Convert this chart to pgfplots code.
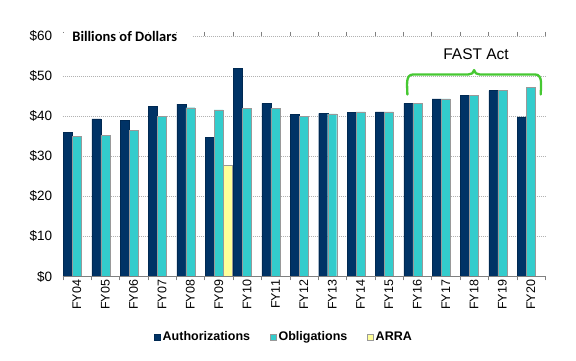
\documentclass[border=0pt]{standalone}
\usepackage{pgfplots}
\pgfplotsset{compat=1.18}
\usepackage{fontspec}
\setmainfont{Liberation Sans}
\newfontfamily\calibri{Carlito}
\definecolor{navy}{RGB}{0,51,102}
\definecolor{teal2}{RGB}{51,204,204}
\definecolor{arra}{RGB}{255,255,153}
\definecolor{brgreen}{RGB}{70,200,50}
\begin{document}
\begin{tikzpicture}
\useasboundingbox (-62.7pt,-84.5pt) rectangle (513.3pt,276.5pt);
\begin{axis}[
  at={(0,0)}, anchor=south west,
  scale only axis, width=482.3pt, height=240.5pt,
  xmin=-0.5, xmax=16.5, ymin=0, ymax=60,
  xtick={0,...,16},
  xticklabels={FY04,FY05,FY06,FY07,FY08,FY09,FY10,FY11,FY12,FY13,FY14,FY15,FY16,FY17,FY18,FY19,FY20},
  x tick label style={rotate=90, anchor=east, font=\fontsize{12.5}{14}\selectfont},
  minor xtick={-0.5,0.5,...,16.5},
  major tick length=0pt, minor tick length=4pt, tick align=outside,
  minor tick style={gray},
  ytick={0,10,20,30,40,50,60},
  yticklabels={\$0,\$10,\$20,\$30,\$40,\$50,\$60},
  y tick label style={font=\fontsize{13.5}{15}\selectfont, xshift=-7pt},
  /pgf/number format/assume math mode=true,
  ymajorgrids, grid style={gray!60, dash pattern=on 1pt off 1pt},
  axis line style={draw=none},
  clip=false,
  ybar, bar width=0.317,
  legend style={draw=none, at={(0.459,-0.2516)}, anchor=center, legend columns=-1,
    font=\bfseries\fontsize{12.5}{14}\selectfont,
    /tikz/every even column/.append style={column sep=18pt},
    /tikz/every odd column/.append style={column sep=0pt},
    inner xsep=0pt},
  legend image code/.code={\draw[#1] (0pt,-3pt) rectangle (6pt,3pt);},
]
\addplot[bar shift=-0.317, fill=navy, draw=navy!80!black] coordinates {
(0,36.0) (1,39.3) (2,39.0) (3,42.5) (4,43.0) (5,34.7) (6,51.9) (7,43.2) (8,40.4)
(9,40.7) (10,40.9) (11,41.1) (12,43.2) (13,44.3) (14,45.2) (15,46.4) (16,39.8)};
\addlegendentry{Authorizations}
\addplot[bar shift=0, fill=teal2, draw=gray!80] coordinates {
(0,35.0) (1,35.2) (2,36.5) (3,40.0) (4,42.1) (5,41.6) (6,42.0) (7,42.0) (8,40.0)
(9,40.6) (10,41.1) (11,41.1) (12,43.2) (13,44.3) (14,45.2) (15,46.4) (16,47.2)};
\addlegendentry{Obligations}
\addplot[bar shift=0.317, fill=arra, draw=gray!80] coordinates {(5,27.7)};
\addlegendentry{ARRA}
\draw[gray] (axis cs:-0.5,0) -- (axis cs:16.5,0);
\fill[white] (axis cs:-0.5,59.3) rectangle (axis cs:4.05,60.7);
\node[anchor=west, inner sep=0pt, font=\calibri\bfseries\fontsize{14.5}{16}\selectfont] at (axis cs:-0.165,60) {Billions of Dollars};
\draw[brgreen, line width=2.3pt, line join=round, line cap=round]
  (axis cs:11.65,45.4) to[out=90,in=180] (axis cs:11.85,50.4) -- (axis cs:13.8,50.4) to[out=0,in=-90] (axis cs:14.0,51.5) to[out=-90,in=180] (axis cs:14.2,50.4) -- (axis cs:16.15,50.4) to[out=0,in=90] (axis cs:16.35,45.4);
\node[font=\fontsize{15.5}{17}\selectfont] at (axis cs:14.07,55.4) {FAST Act};
\end{axis}
\end{tikzpicture}
\end{document}
